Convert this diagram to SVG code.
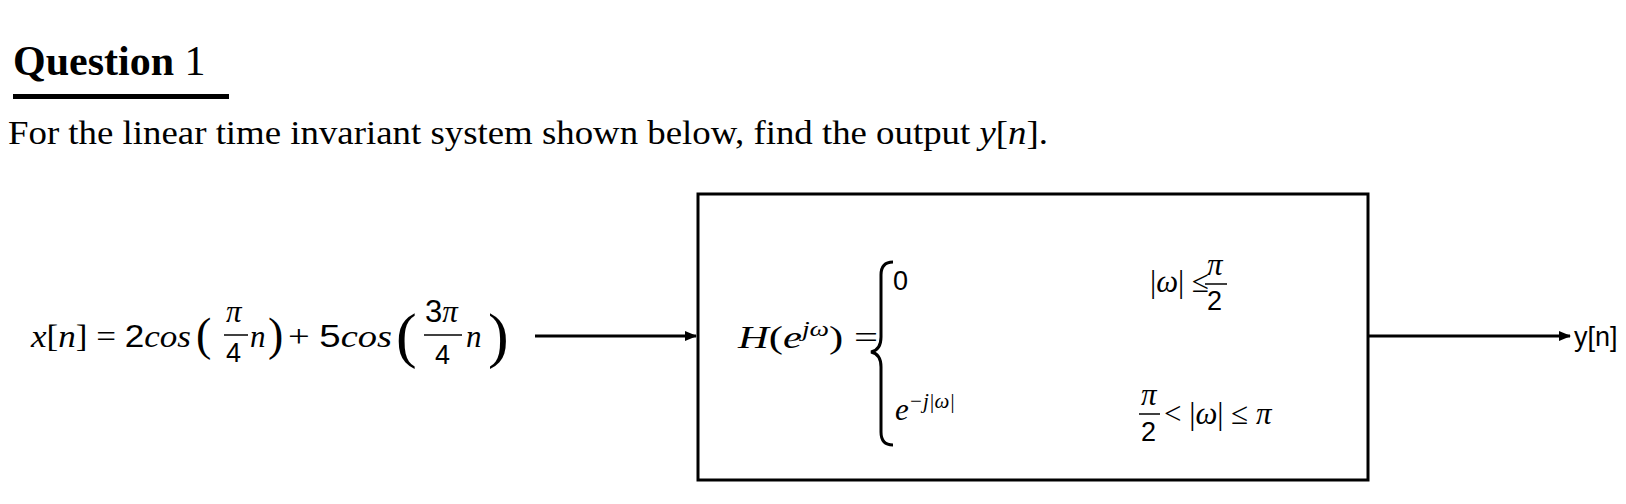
<svg xmlns="http://www.w3.org/2000/svg" width="1626" height="504" viewBox="0 0 1626 504">
<style>
.s{font-family:"Liberation Serif",serif;fill:#000}
.m{font-family:"Liberation Serif",serif;font-style:italic;fill:#000;font-size:31px}
.c{font-family:"Liberation Sans",sans-serif;fill:#000;font-size:27px}
.l{stroke:#000;stroke-width:3;fill:none}
</style>
<defs><marker id="a" markerWidth="12" markerHeight="10" refX="11" refY="5" orient="auto" markerUnits="userSpaceOnUse"><path d="M0,0L12,5L0,10z" fill="#000"/></marker></defs>
<rect width="1626" height="504" fill="#fff"/>
<g id="title">
<text class="s" x="13" y="75" font-size="42"><tspan font-weight="bold">Question</tspan> 1</text>
<rect x="13" y="94" width="216" height="5" fill="#000"/>
<text class="s" x="8" y="144" font-size="33" textLength="1040" lengthAdjust="spacingAndGlyphs">For the linear time invariant system shown below, find the output <tspan font-style="italic">y</tspan>[<tspan font-style="italic">n</tspan>].</text>
</g>
<g id="input">
<text class="m" x="31" y="347" textLength="160" lengthAdjust="spacingAndGlyphs">x<tspan font-style="normal">[</tspan>n<tspan font-style="normal">] = </tspan><tspan font-family="Liberation Sans" font-style="normal">2</tspan>cos</text>
<text class="s" x="196" y="350" font-size="46">(</text>
<text class="m" x="226" y="322">π</text>
<line x1="224" y1="335" x2="248" y2="335" stroke="#000" stroke-width="1.5"/>
<text class="c" x="226" y="362">4</text>
<text class="m" x="250" y="347">n</text>
<text class="s" x="268" y="350" font-size="46">)</text>
<text class="m" x="288" y="347" textLength="104" lengthAdjust="spacingAndGlyphs"><tspan font-style="normal">+ </tspan><tspan font-family="Liberation Sans" font-style="normal">5</tspan>cos</text>
<text class="s" x="396" y="356" font-size="62">(</text>
<text class="m" x="425" y="322"><tspan font-family="Liberation Sans" font-style="normal">3</tspan>π</text>
<line x1="424" y1="335" x2="462" y2="335" stroke="#000" stroke-width="1.5"/>
<text class="c" x="435" y="364">4</text>
<text class="m" x="466" y="347">n</text>
<text class="s" x="488" y="356" font-size="62">)</text>
</g>
<g id="system">
<rect x="698" y="194" width="670" height="286" class="l" stroke-width="3.5"/>
<text class="m" x="738" y="348" textLength="140" lengthAdjust="spacingAndGlyphs">H<tspan font-style="normal">(</tspan>e<tspan font-size="20" dy="-12">jω</tspan><tspan dy="12" font-style="normal">) =</tspan></text>
<path d="M893,262 Q881,262 881,275 L881,337 Q881,350 871,352 Q881,354 881,367 L881,432 Q881,445 893,445" class="l" stroke-width="2"/>
<text class="c" x="893" y="290">0</text>
<text class="m" x="1150" y="292"><tspan font-style="normal">|</tspan>ω<tspan font-style="normal">| ≤</tspan></text>
<text class="m" x="1207" y="275">π</text>
<line x1="1205" y1="284" x2="1227" y2="284" stroke="#000" stroke-width="1.5"/>
<text class="c" x="1207" y="310">2</text>
<text class="m" x="895" y="420">e<tspan font-size="21" dy="-12">−j|ω|</tspan></text>
<text class="m" x="1141" y="405">π</text>
<line x1="1139" y1="414" x2="1160" y2="414" stroke="#000" stroke-width="1.5"/>
<text class="c" x="1141" y="441">2</text>
<text class="m" x="1164" y="424"><tspan font-style="normal">&lt;  |</tspan>ω<tspan font-style="normal">| ≤ </tspan>π</text>
</g>
<g id="output"><text class="c" x="1574" y="346">y[n]</text></g>
<g id="connectors">
<line x1="535" y1="336" x2="696" y2="336" class="l" marker-end="url(#a)"/>
<line x1="1368" y1="336" x2="1570" y2="336" class="l" marker-end="url(#a)"/>
</g>
</svg>
